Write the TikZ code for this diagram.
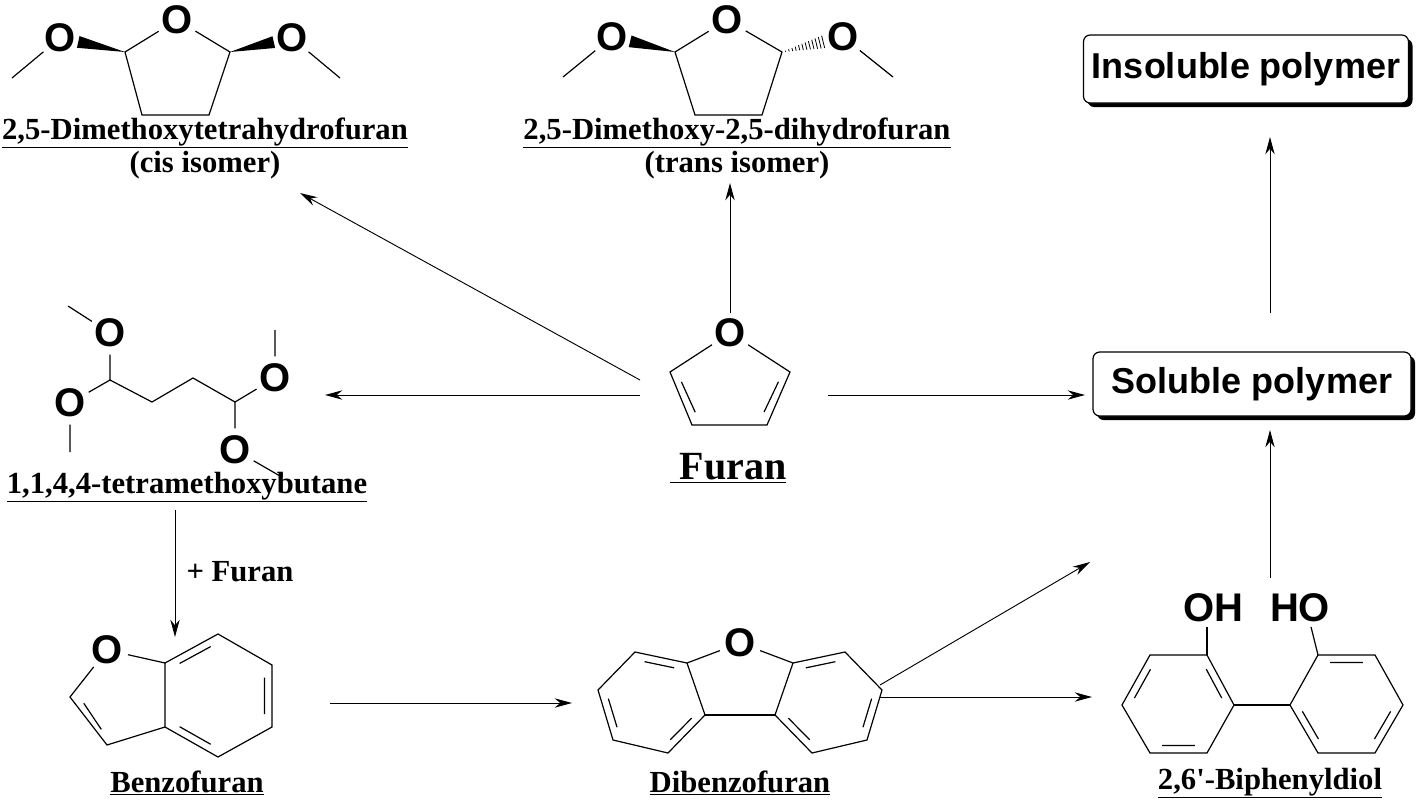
\documentclass[tikz,border=0pt]{standalone}
\usepackage{fontspec}
\setmainfont{Liberation Serif}
\newfontfamily\arial{Liberation Sans}
\usetikzlibrary{calc,arrows.meta,shadows}
\newcommand\dbl[3]{\path ($(#1)!.16!(#2)$) coordinate (tA) ($(#2)!.16!(#1)$) coordinate (tB); \draw ($(tA)!6pt!(#3)$) -- ($(tB)!6pt!(#3)$);}
\begin{document}
\begin{tikzpicture}[x=0.75pt,y=-0.75pt,line width=0.9pt,
  atom/.style={font=\arial\bfseries\fontsize{30}{30}\selectfont,inner sep=0pt,circle},
  lbl/.style={font=\bfseries\fontsize{23}{25}\selectfont,inner sep=1pt,align=center},
  rxn/.style={-{Stealth[length=13pt,width=7pt]},line width=0.7pt},
  poly/.style={draw,rounded corners=5pt,fill=white,line width=0.9pt,font=\arial\bfseries\fontsize{27}{30}\selectfont,inner sep=0pt,
     drop shadow={shadow xshift=3pt,shadow yshift=-3pt,opacity=1,fill=black}}]
\useasboundingbox (0,0) rectangle (1422,804);
% ---- cis
\node[atom] (a1) at (60,38) {O};
\node[atom] (a2) at (177,20) {O};
\node[atom] (a3) at (292,38) {O};
\coordinate (c2) at (125,52); \coordinate (c5) at (230,52);
\coordinate (c3) at (142,115); \coordinate (c4) at (209,115);
\coordinate (m1) at (12,78); \coordinate (m2) at (340,78);
\draw (a2)--(c2)--(c3)--(c4)--(c5)--(a2);
\draw (a1)--(m1); \draw (a3)--(m2);
\fill (c2) -- ($(a1.center)!14pt!(c2)!4.5pt!90:(c2)$) -- ($(a1.center)!14pt!(c2)!4.5pt!-90:(c2)$) -- cycle;
\fill (c5) -- ($(a3.center)!14pt!(c5)!4.5pt!90:(c5)$) -- ($(a3.center)!14pt!(c5)!4.5pt!-90:(c5)$) -- cycle;
\node[lbl] (l1) at (205,133) {\underline{2,5-Dimethoxytetrahydrofuran}};
\node[lbl] (l1b) at (205,165) {(cis isomer)};
% ---- trans
\node[atom] (b1) at (612,37) {O};
\node[atom] (b2) at (727,20) {O};
\node[atom] (b3) at (843,37) {O};
\coordinate (d2) at (675,52); \coordinate (d5) at (782,52);
\coordinate (d3) at (695,115); \coordinate (d4) at (762,115);
\coordinate (n1) at (563,77); \coordinate (n2) at (893,77);
\draw (b2)--(d2)--(d3)--(d4)--(d5)--(b2);
\draw (b1)--(n1); \draw (b3)--(n2);
\fill (d2) -- ($(b1.center)!14pt!(d2)!4.5pt!90:(d2)$) -- ($(b1.center)!14pt!(d2)!4.5pt!-90:(d2)$) -- cycle;
\foreach \t in {0.08,0.16,...,0.99}{
  \draw[line width=0.6pt] ($(d5)!\t!($(b3.center)!14pt!(d5)$)!\t*5pt!90:(b3.center)$) -- ($(d5)!\t!($(b3.center)!14pt!(d5)$)!\t*5pt!-90:(b3.center)$);}
\node[lbl] (l2) at (737,133) {\underline{2,5-Dimethoxy-2,5-dihydrofuran}};
\node[lbl] (l2b) at (737,165) {(trans isomer)};
% ---- boxes
\node[poly,minimum width=325pt*0.75,minimum height=68pt*0.75] (ins) at (1246,69) {Insoluble polymer};
\node[poly,minimum width=318pt*0.75,minimum height=64pt*0.75] (sol) at (1252,384) {Soluble polymer};
% ---- furan
\node[atom] (f0) at (730,333) {O};
\coordinate (f2) at (670,372); \coordinate (f5) at (790,372);
\coordinate (f3) at (692,425); \coordinate (f4) at (767,425);
\coordinate (fc) at (730,390);
\draw (f0)--(f2)--(f3)--(f4)--(f5)--(f0);
\dbl{f2}{f3}{fc} \dbl{f4}{f5}{fc}
\node[lbl,font=\bfseries\fontsize{30}{32}\selectfont] (lf) at (728,468) {\underline{\ Furan}};
\coordinate (fu) at (730,313); \coordinate (tu) at (730,183);
\coordinate (fl1) at (640,380); \coordinate (tl1) at (300,193);
\coordinate (fl2) at (640,395); \coordinate (tl2) at (325,395);
\coordinate (fr) at (828,395); \coordinate (tr) at (1085,395);
\draw[rxn] (fu)--(tu); \draw[rxn] (fl1)--(tl1); \draw[rxn] (fl2)--(tl2); \draw[rxn] (fr)--(tr);
% ---- tetramethoxybutane
\node[atom] (o1) at (110,333) {O};
\node[atom] (o2) at (70,403) {O};
\node[atom] (o3) at (275,378) {O};
\node[atom] (o4) at (235,450) {O};
\coordinate (k1) at (110,380); \coordinate (k2) at (152,402);
\coordinate (k3) at (193,378); \coordinate (k4) at (235,402);
\coordinate (q1) at (68,306); \coordinate (q2) at (70,452);
\coordinate (q3) at (275,330); \coordinate (q4) at (280,476);
\draw (q1)--(o1)--(k1)--(k2)--(k3)--(k4)--(o3)--(q3);
\draw (k1)--(o2)--(q2); \draw (k4)--(o4)--(q4);
\node[lbl] (l3) at (187,487) {\underline{1,1,4,4-tetramethoxybutane}};
\coordinate (tb1) at (175,510); \coordinate (tb2) at (175,637);
\draw[rxn] (tb1)--(tb2);
\node[lbl] (plus) at (240,572) {+ Furan};
% ---- benzofuran
\node[atom] (bo) at (107,650) {O};
\coordinate (e7a) at (165,663); \coordinate (e3a) at (165,727);
\coordinate (e3) at (107,745); \coordinate (e2) at (70,697);
\coordinate (e7) at (218,634); \coordinate (e6) at (272,665);
\coordinate (e5) at (272,727); \coordinate (e4) at (218,757);
\coordinate (ec1) at (102,700); \coordinate (ec2) at (218,695);
\draw (bo)--(e7a)--(e3a)--(e3)--(e2)--(bo);
\draw (e7a)--(e7)--(e6)--(e5)--(e4)--(e3a);
\dbl{e2}{e3}{ec1} \dbl{e7a}{e7}{ec2} \dbl{e6}{e5}{ec2} \dbl{e3a}{e4}{ec2}
\node[lbl] (l4) at (187,783) {\underline{Benzofuran}};
\coordinate (bf1) at (330,703); \coordinate (bf2) at (572,703);
\draw[rxn] (bf1)--(bf2);
% ---- dibenzofuran
\node[atom] (dO) at (740,643) {O};
\coordinate (g1) at (687,663); \coordinate (g2) at (635,652); \coordinate (g3) at (598,690);
\coordinate (g4) at (613,740); \coordinate (g5) at (668,753); \coordinate (g6) at (705,715);
\coordinate (h1) at (793,663); \coordinate (h2) at (845,652); \coordinate (h3) at (882,690);
\coordinate (h4) at (867,740); \coordinate (h5) at (812,753); \coordinate (h6) at (775,715);
\coordinate (gc) at (651,702); \coordinate (hc) at (829,702);
\draw (dO)--(g1)--(g2)--(g3)--(g4)--(g5)--(g6)--(g1);
\draw (dO)--(h1)--(h2)--(h3)--(h4)--(h5)--(h6)--(h1);
\draw (g6)--(h6);
\dbl{g2}{g1}{gc} \dbl{g3}{g4}{gc} \dbl{g5}{g6}{gc}
\dbl{h2}{h1}{hc} \dbl{h3}{h4}{hc} \dbl{h5}{h6}{hc}
\node[lbl] (l5) at (740,783) {\underline{Dibenzofuran}};
\coordinate (df1) at (880,685); \coordinate (df2) at (1090,562);
\coordinate (df3) at (880,697); \coordinate (df4) at (1092,697);
\draw[rxn] (df1)--(df2); \draw[rxn] (df3)--(df4);
% ---- biphenyldiol
\coordinate (p1) at (1207,655); \coordinate (p2) at (1150,655); \coordinate (p3) at (1122,705);
\coordinate (p4) at (1150,753); \coordinate (p5) at (1207,753); \coordinate (p6) at (1234,705);
\coordinate (r1) at (1290,705); \coordinate (r2) at (1318,655); \coordinate (r3) at (1375,655);
\coordinate (r4) at (1403,705); \coordinate (r5) at (1375,753); \coordinate (r6) at (1318,753);
\coordinate (pc) at (1178,704); \coordinate (rc) at (1346,704);
\draw (p1)--(p2)--(p3)--(p4)--(p5)--(p6)--(p1);
\draw (r1)--(r2)--(r3)--(r4)--(r5)--(r6)--(r1);
\draw (p6)--(r1);
\dbl{p2}{p3}{pc} \dbl{p4}{p5}{pc} \dbl{p1}{p6}{pc}
\dbl{r1}{r6}{rc} \dbl{r2}{r3}{rc} \dbl{r4}{r5}{rc}
\node[atom,inner sep=0pt,rectangle] (oh1) at (1213,608) {OH};
\node[atom,inner sep=0pt,rectangle] (oh2) at (1300,608) {HO};
\coordinate (oh1b) at (1207,627); \coordinate (oh2b) at (1311,627);
\draw (p1)--(oh1b); \draw (r2)--(oh2b);
\node[lbl] (l6) at (1270,783) {\underline{2,6\textquotesingle-Biphenyldiol}};
\coordinate (bp1) at (1270,578); \coordinate (bp2) at (1270,430);
\coordinate (sp1) at (1270,313); \coordinate (sp2) at (1270,137);
\draw[rxn] (bp1)--(bp2); \draw[rxn] (sp1)--(sp2);
\end{tikzpicture}
\end{document}
